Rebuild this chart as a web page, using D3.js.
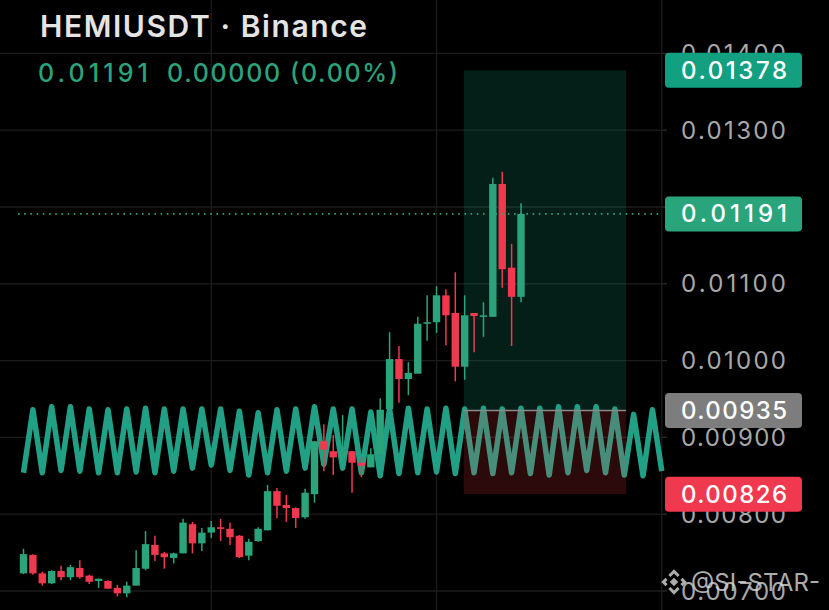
<!DOCTYPE html>
<html>
<head>
<meta charset="utf-8">
<script src="https://cdn.jsdelivr.net/npm/d3@7"></script>
<style>
html, body { margin: 0; padding: 0; background: #000; }
svg { display: block; font-family: Inter, "Noto Sans", sans-serif; }
</style>
</head>
<body>
<svg id="chart" width="829" height="610"></svg>
<script>
// candles, 1 bar per index
var opens  = [0.00723,0.00747,0.00723,0.00710,0.00726,0.00718,0.00730,0.00720,0.00713,0.00713,
              0.00704,0.00697,0.00707,0.00729,0.00760,0.00749,0.00743,0.00749,0.00787,0.00762,
              0.00776,0.00783,0.00781,0.00772,0.00746,0.00765,0.00779,0.00830,0.00812,0.00808,
              0.00796,0.00826,0.00895,0.00882,0.00873,0.00882,0.00867,0.00861,0.00878,0.00937,
              0.01002,0.00976,0.00983,0.01048,0.01050,0.01085,0.01062,0.00992,0.01062,0.01057,
              0.01057,0.01230,0.01121,0.01083];
var highs  = [0.00755,0.00748,0.00725,0.00727,0.00733,0.00734,0.00740,0.00721,0.00716,0.00714,
              0.00708,0.00712,0.00753,0.00778,0.00772,0.00751,0.00750,0.00794,0.00790,0.00782,
              0.00791,0.00794,0.00789,0.00773,0.00768,0.00783,0.00838,0.00834,0.00825,0.00809,
              0.00833,0.00895,0.00917,0.00903,0.00929,0.00882,0.00874,0.00886,0.00951,0.01037,
              0.01019,0.00998,0.01057,0.01085,0.01097,0.01093,0.01115,0.01085,0.01062,0.01076,
              0.01238,0.01246,0.01152,0.01205];
var lows   = [0.00722,0.00721,0.00707,0.00709,0.00714,0.00714,0.00716,0.00709,0.00704,0.00703,
              0.00693,0.00692,0.00707,0.00727,0.00739,0.00729,0.00736,0.00749,0.00749,0.00752,
              0.00769,0.00765,0.00760,0.00743,0.00740,0.00764,0.00779,0.00795,0.00790,0.00782,
              0.00794,0.00815,0.00856,0.00851,0.00858,0.00828,0.00848,0.00861,0.00876,0.00937,
              0.00945,0.00955,0.00983,0.01026,0.01036,0.01020,0.00973,0.00975,0.01011,0.01031,
              0.01057,0.01095,0.01019,0.01076];
var closes = [0.00748,0.00723,0.00710,0.00726,0.00718,0.00731,0.00718,0.00712,0.00716,0.00703,
              0.00697,0.00707,0.00730,0.00761,0.00747,0.00744,0.00749,0.00789,0.00762,0.00776,
              0.00783,0.00781,0.00770,0.00744,0.00764,0.00781,0.00830,0.00811,0.00808,0.00795,
              0.00828,0.00895,0.00884,0.00874,0.00882,0.00867,0.00863,0.00878,0.00936,0.01002,
              0.00976,0.00984,0.01048,0.01050,0.01085,0.01059,0.00992,0.01059,0.01058,0.01059,
              0.01230,0.01119,0.01083,0.01191];

// oscillating indicator line, one point per bar (runs past the last candle)
var waveValues = [0.00854,0.00936,0.00854,0.00940,0.00857,0.00940,0.00856,0.00937,0.00854,0.00936,
                  0.00854,0.00937,0.00855,0.00938,0.00854,0.00937,0.00856,0.00937,0.00860,0.00937,
                  0.00864,0.00937,0.00857,0.00934,0.00851,0.00932,0.00854,0.00936,0.00856,0.00937,
                  0.00860,0.00940,0.00865,0.00937,0.00860,0.00937,0.00854,0.00933,0.00850,0.00937,
                  0.00853,0.00938,0.00854,0.00937,0.00855,0.00938,0.00853,0.00937,0.00854,0.00938,
                  0.00853,0.00937,0.00854,0.00938,0.00853,0.00938,0.00851,0.00940,0.00854,0.00940,
                  0.00857,0.00940,0.00854,0.00937,0.00851,0.00930,0.00850,0.00936,0.00856];

var priceTicks = [0.007, 0.008, 0.009, 0.010, 0.011, 0.012, 0.013, 0.014];
var timeLines = [20, 44, 68];   // day separators (bar index)

var lastPrice = 0.01191;
var targetPrice = 0.01378, entryPrice = 0.00935, stopPrice = 0.00826;
var positionBars = [46.9, 64.2];

var symbolText = "HEMIUSDT · Binance";
var lastText = "0.01191", changeText = "0.00000 (0.00%)";
var watermark = "@SI-STAR-";

var GREEN = "#2ba37b", RED = "#f0384f", WAVE = "#22a085";
var plotRight = 662;

var svg = d3.select("#chart");
svg.append("rect").attr("width", 829).attr("height", 610).attr("fill", "#000");

var x = d3.scaleLinear().domain([0, 53]).range([23.5, 521]);
var y = d3.scaleLinear().domain([0.007, 0.014]).range([591, 53.4]);
var fmt = d3.format(".5f");

// grid
var grid = svg.append("g");
grid.selectAll("line.h").data(priceTicks).enter().append("line")
    .attr("x1", 0).attr("x2", plotRight)
    .attr("y1", d => y(d)).attr("y2", d => y(d))
    .attr("stroke", "#1c1c1c").attr("stroke-width", 1.3);
grid.selectAll("line.v").data(timeLines).enter().append("line")
    .attr("x1", d => x(d)).attr("x2", d => x(d))
    .attr("y1", 0).attr("y2", 610)
    .attr("stroke", "#1c1c1c").attr("stroke-width", 1.3);
grid.selectAll("line.t").data(priceTicks).enter().append("line")
    .attr("x1", plotRight).attr("x2", plotRight + 5)
    .attr("y1", d => y(d)).attr("y2", d => y(d))
    .attr("stroke", "#2a2a2a").attr("stroke-width", 1.3);

// wave indicator
var wave = d3.line().x((d, i) => x(i)).y(d => y(d));
svg.append("path").datum(waveValues)
    .attr("d", wave)
    .attr("fill", "none")
    .attr("stroke", WAVE)
    .attr("stroke-width", 5.5)
    .attr("stroke-linejoin", "round");

// long position tool
var pos = svg.append("g");
pos.append("rect")
    .attr("x", x(positionBars[0])).attr("width", x(positionBars[1]) - x(positionBars[0]))
    .attr("y", y(targetPrice)).attr("height", y(entryPrice) - y(targetPrice))
    .attr("fill", "rgba(20,160,130,0.19)");
pos.append("rect")
    .attr("x", x(positionBars[0])).attr("width", x(positionBars[1]) - x(positionBars[0]))
    .attr("y", y(entryPrice)).attr("height", y(stopPrice) - y(entryPrice))
    .attr("fill", "rgba(242,54,69,0.18)");
pos.append("line")
    .attr("x1", x(positionBars[0])).attr("x2", x(positionBars[1]))
    .attr("y1", y(entryPrice)).attr("y2", y(entryPrice))
    .attr("stroke", "#8a8a8a").attr("stroke-width", 1.5);

// candles
var bars = d3.range(opens.length).map(i => ({
    i: i, o: opens[i], h: highs[i], l: lows[i], c: closes[i]
}));
var bodyW = 7.4;
var cg = svg.append("g").selectAll("g").data(bars).enter().append("g")
    .attr("fill", d => d.c >= d.o ? GREEN : RED)
    .attr("stroke", d => d.c >= d.o ? GREEN : RED);
cg.append("line")
    .attr("x1", d => x(d.i)).attr("x2", d => x(d.i))
    .attr("y1", d => y(d.h)).attr("y2", d => y(d.l))
    .attr("stroke-width", 1.5);
cg.append("rect")
    .attr("stroke", "none")
    .attr("x", d => x(d.i) - bodyW / 2).attr("width", bodyW)
    .attr("y", d => y(Math.max(d.o, d.c)))
    .attr("height", d => Math.max(1.6, Math.abs(y(d.o) - y(d.c))));

// last price line
svg.append("line")
    .attr("x1", 18).attr("x2", plotRight)
    .attr("y1", y(lastPrice)).attr("y2", y(lastPrice))
    .attr("stroke", GREEN).attr("stroke-width", 1.6)
    .attr("stroke-dasharray", "1.6,4.6");

// axis labels
svg.append("g").selectAll("text").data(priceTicks).enter().append("text")
    .attr("x", 681).attr("y", d => y(d) + 8.5)
    .attr("font-size", 24).attr("fill", "#a8a8a8")
    .attr("textLength", 105).attr("lengthAdjust", "spacing")
    .text(d => fmt(d));

// price badges
var badges = [
    { p: targetPrice, bg: "#12a081" },
    { p: lastPrice, bg: "#2aa57b" },
    { p: entryPrice, bg: "#7d7d7d" },
    { p: stopPrice, bg: "#f0384f" }
];
var bg = svg.append("g").selectAll("g").data(badges).enter().append("g");
bg.append("rect")
    .attr("x", 665).attr("width", 137)
    .attr("y", d => y(d.p) - 17.5).attr("height", 35)
    .attr("rx", 4).attr("fill", d => d.bg);
bg.append("text")
    .attr("x", 681).attr("y", d => y(d.p) + 8.5)
    .attr("font-size", 24).attr("font-weight", 500).attr("fill", "#fff")
    .attr("textLength", 106).attr("lengthAdjust", "spacing")
    .text(d => fmt(d.p));

// header
svg.append("text").attr("x", 40).attr("y", 37)
    .attr("font-size", 30).attr("font-weight", 600).attr("fill", "#e4e4e4")
    .attr("textLength", 327).attr("lengthAdjust", "spacing")
    .text(symbolText);
svg.append("text").attr("x", 38).attr("y", 82)
    .attr("font-size", 25).attr("font-weight", 500).attr("fill", GREEN)
    .attr("textLength", 110).attr("lengthAdjust", "spacing")
    .text(lastText);
svg.append("text").attr("x", 167).attr("y", 82)
    .attr("font-size", 25).attr("font-weight", 500).attr("fill", GREEN)
    .attr("textLength", 231).attr("lengthAdjust", "spacing")
    .text(changeText);

// watermark
var wm = svg.append("g").attr("opacity", 0.8);
var logo = wm.append("g").attr("transform", "translate(674,582) rotate(45)").attr("fill", "#d8d8d8");
logo.append("rect").attr("x", -3).attr("y", -3).attr("width", 6).attr("height", 6);
logo.append("path")
    .attr("d", "M-9,-9 h8 v3 h-5 v5 h-3 Z M9,9 h-8 v-3 h5 v-5 h3 Z M9,-9 v6 h-3 v-3 h-3 v-3 Z M-9,9 v-6 h3 v3 h3 v3 Z");
wm.append("text").attr("x", 691).attr("y", 591)
    .attr("font-size", 24).attr("fill", "#d8d8d8")
    .attr("textLength", 129).attr("lengthAdjust", "spacing")
    .text(watermark);
</script>
</body>
</html>
